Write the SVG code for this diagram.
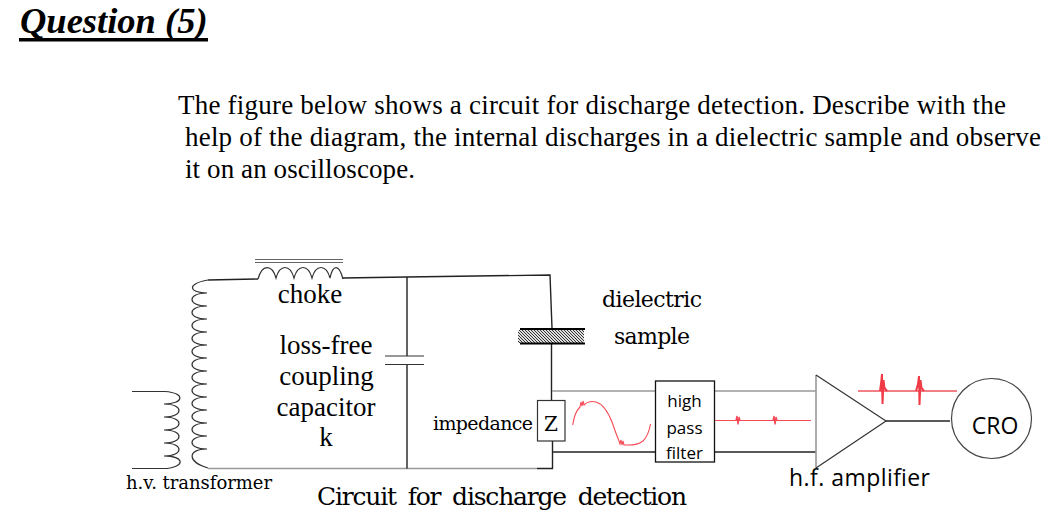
<svg xmlns="http://www.w3.org/2000/svg" width="1057" height="515" viewBox="0 0 1057 515">
<style>
text{font-family:"Liberation Serif","Times New Roman",serif;fill:#000}
.p{font-size:27px}
.l{font-size:27px;text-anchor:middle}
.d{font-family:"DejaVu Serif",serif}
.o{font-family:"Open Sans",sans-serif}
.w{fill:none;stroke:#222;stroke-width:1.4}
.g{fill:none;stroke:#999;stroke-width:1.6}
.c{fill:none;stroke:#333;stroke-width:1.2}
.r{fill:none;stroke:#e8000f;stroke-width:1.2}
.r2{fill:none;stroke:#f54a55;stroke-width:1.1}
</style>
<defs>
<pattern id="h" width="3" height="3" patternUnits="userSpaceOnUse"><rect width="3" height="3" fill="#ddd"/><path d="M0 0L3 3" stroke="#333" stroke-width="1"/></pattern>
</defs>
<g id="heading"><text x="20" y="33" font-size="36.500" font-weight="bold" font-style="italic">Question (5)</text><path d="M19 39.800H208" stroke="#000" stroke-width="3.400" fill="none"/></g>
<g id="paragraph">
<text class="p" x="178" y="114" textLength="828">The figure below shows a circuit for discharge detection. Describe with the</text>
<text class="p" x="185" y="146" textLength="856">help of the diagram, the internal discharges in a dielectric sample and observe</text>
<text class="p" x="185" y="178" textLength="230">it on an oscilloscope.</text>
</g>
<g id="connectors">
<path class="w" d="M208 280L258 279"/>
<path class="w" d="M342 278L407 277L550 275L552 328"/>
<path class="g" d="M208 468.500H537"/>
<path class="w" d="M537 468.500H552.500V441"/>
<path class="w" d="M407 277V356M407 364V468.500"/>
<path class="w" d="M551.500 343V400"/>
<path class="g" d="M552 391H655"/>
<path class="w" d="M552 452H655"/>
<path class="g" d="M715 391H816"/>
<path class="w" d="M715 452H816"/>
<path class="w" d="M886 421H950"/>
<path class="c" d="M132 391.500H165M132 468.500H168"/>
</g>
<g id="hv-transformer">
<path class="c" d="M208 280C185 284 190 293 207 293C187 293 187 306 207 306C187 306 187 319 207 319C187 319 187 332 207 332C187 332 187 345 207 345C187 345 187 358 207 358C187 358 187 371 207 371C187 371 187 384 207 384C187 384 187 397 207 397C187 397 187 410 207 410C187 410 187 423 207 423C187 423 187 436 207 436C187 436 187 449 207 449C187 449 187 462 208 468"/>
<path class="c" d="M165 391.500C186 393 184 404 164 404C184 404 184 417 164 417C184 417 184 430 164 430C184 430 184 443 164 443C184 443 184 456 164 456C184 456 186 466 167 468.500"/>
<text class="d" x="126" y="489" font-size="18" textLength="146">h.v. transformer</text>
</g>
<g id="choke">
<path class="c" d="M258 279C262 264 272 264 276 278C280 264 290 264 294 278C298 264 308 264 312 278C316 264 326 264 330 278C333 264 339 264 343 279"/>
<path d="M255 259.500H343M255 262.500H343" stroke="#666" stroke-width="1" fill="none"/>
<text class="l" x="310" y="303">choke</text>
</g>
<g id="coupling-capacitor">
<path d="M385 356H424M385 364.500H424" stroke="#333" stroke-width="1.200" fill="none"/>
<text class="l" x="326" y="354">loss-free</text>
<text class="l" x="326.500" y="385">coupling</text>
<text class="l" x="326" y="416">capacitor</text>
<text class="l" x="326" y="446">k</text>
</g>
<g id="dielectric-sample">
<rect x="518" y="330" width="66" height="13" fill="url(#h)"/>
<path d="M520 329H585M520 343.500H585" stroke="#000" stroke-width="1.800" fill="none"/>
<text class="d" x="602" y="307" font-size="22" textLength="100">dielectric</text>
<text class="d" x="614" y="344" font-size="22" textLength="76">sample</text>
</g>
<g id="impedance">
<rect x="537.500" y="400.500" width="27.500" height="40.500" fill="#fff" stroke="#333" stroke-width="1.200"/>
<text class="d" x="433" y="430" font-size="19" textLength="100">impedance</text>
<text class="d" x="551" y="431" font-size="20" text-anchor="middle">Z</text>
</g>
<g id="sine-signal">
<path class="r2" d="M572.700 425C574 416 577 410 580 407L581 402L582 406L583 401L584 405C587 402 592 401 596 402C603 404 608 412 612 422C615 431 617 436 619 441L620 444L621 440L622 445L623 441L624 445C630 445 637 446 643 441C647 437 649 433 650.500 424"/>
</g>
<g id="high-pass-filter">
<rect x="655.500" y="381" width="59" height="81" fill="#fff" stroke="#111" stroke-width="1.300"/>
<text class="o" x="684.500" y="407" font-size="17" text-anchor="middle">high</text>
<text class="o" x="684.500" y="434" font-size="17" text-anchor="middle">pass</text>
<text class="o" x="684.500" y="459" font-size="17" text-anchor="middle">filter</text>
</g>
<g id="filtered-signal">
<path class="r2" d="M715 420.500H811"/>
<path d="M736 420.500L737 416L738 424.500L739 417L740 420.500M773 420.500L774 416L775 424.500L776 417L777 420.500" fill="none" stroke="#f54a55" stroke-width="1.400"/>
</g>
<g id="amplifier">
<path class="g" d="M816 375V468"/>
<path d="M816 375L886 421L816 468" fill="none" stroke="#333" stroke-width="1.200"/>
<text class="o" x="789" y="486" font-size="23" textLength="141">h.f. amplifier</text>
</g>
<g id="output-signal">
<path class="r" d="M858 391H957"/>
<path d="M880 391L881 384L882 374L882.500 404L883.500 380L884.500 388L887 391M916 391L918 384L919 376L919.500 405L920.500 380L921.500 388L924 391" fill="none" stroke="#f03a46" stroke-width="2"/>
</g>
<g id="cro">
<circle cx="991.500" cy="418.500" r="40" fill="#fff" stroke="#444" stroke-width="1.200"/>
<text class="o" x="995" y="434" font-size="23" text-anchor="middle">CRO</text>
</g>
<g id="caption"><text class="d" x="317" y="505" font-size="25" word-spacing="5" textLength="370">Circuit for discharge detection</text></g>
</svg>
